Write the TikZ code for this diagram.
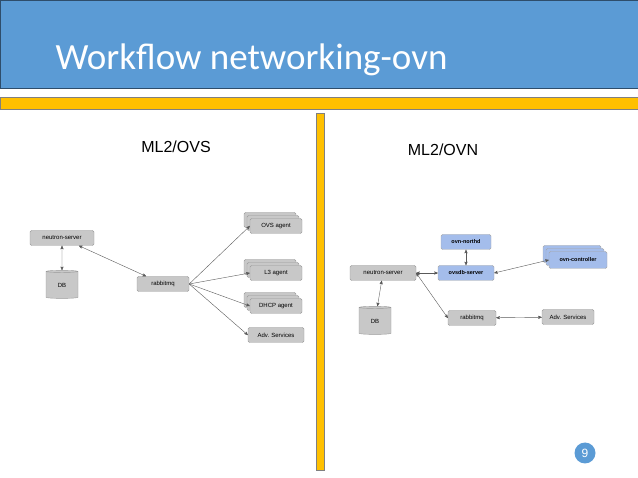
\documentclass[tikz,border=0pt]{standalone}
\usepackage{fontspec}
\setmainfont{Liberation Sans}
\newfontfamily\titlefont{Carlito}
\usetikzlibrary{arrows,positioning,shapes.geometric}
\definecolor{hdrblue}{HTML}{5B9BD5}
\definecolor{baryellow}{HTML}{FFC000}
\definecolor{boxgray}{HTML}{C8C8C8}
\definecolor{ovnblue}{HTML}{A4BDEB}
\tikzset{
flow/.style={<->,>=stealth',thin,draw=gray!70!black},
comp/.style={rectangle,rounded corners=1.5pt,draw=gray!80,fill=boxgray,
    inner sep=0pt,minimum height=15pt,font=\fontsize{6}{6}\selectfont},
ovn/.style={comp,fill=ovnblue,draw=gray!70,font=\bfseries\fontsize{5.5}{6}\selectfont},
store/.style={cylinder,shape border rotate=90,aspect=0.25,draw=gray!80,fill=boxgray,
    minimum width=32pt,minimum height=28pt,inner sep=0pt,font=\fontsize{6}{6}\selectfont},
}
\begin{document}
\begin{tikzpicture}[x=1pt,y=-1pt]
    \useasboundingbox (0,0) rectangle (638,478);
    % header
    \fill[hdrblue,draw=hdrblue!50!black] (0,0) rectangle (638,88);
    \node[anchor=base west,text=white,font=\titlefont\fontsize{37}{38}\selectfont] (title) at (52,70) {Workflow networking-ovn};
    \fill[baryellow,draw=gray] (0,97) rectangle (638,109);
    \fill[baryellow,draw=gray] (316,113) rectangle (324,470);
    \node[circle,fill=hdrblue,text=white,minimum size=21pt,inner sep=0pt,font=\fontsize{12}{12}\selectfont] (page) at (585,453) {9};

    % ML2/OVS
    \node[font=\fontsize{16}{16}\selectfont] (ovstitle) at (176,147) {ML2/OVS};
    \node[comp,minimum width=64pt] (ns1) at (62,238) {neutron-server};
    \node[store] (db1) at (62,285) {DB};
    \node[comp,minimum width=52pt] (rmq1) at (163,284) {rabbitmq};
    \foreach \name/\txt/\y in {ovs/OVS agent/226,ltr/L3 agent/273,dhcp/DHCP agent/306}{
        \node[comp,minimum width=52pt] at (270,\y-6) {};
        \node[comp,minimum width=52pt] at (273,\y-3) {};
        \node[comp,minimum width=52pt] (\name) at (276,\y) {\txt};
    }
    \node[comp,minimum width=56pt] (adv1) at (276,335) {Adv. Services};
    \draw[flow] (ns1) -- (rmq1);
    \draw[flow] (ns1) -- (db1);
    \foreach \t in {ovs,ltr,dhcp,adv1}
        \draw[flow,<-] (\t.west) -- (rmq1.east);

    % ML2/OVN
    \node[font=\fontsize{16}{16}\selectfont] (ovntitle) at (443,150) {ML2/OVN};
    \node[comp,minimum width=66pt] (ns2) at (383,273) {neutron-server};
    \node[store] (db2) at (375,321) {DB};
    \node[ovn,minimum width=50pt] (northd) at (466,242) {ovn-northd};
    \node[ovn,minimum width=56pt] (ovsdb) at (466,273) {ovsdb-server};
    \node[ovn,minimum width=58pt,minimum height=17pt] at (572,254) {};
    \node[ovn,minimum width=58pt,minimum height=17pt] at (575,257) {};
    \node[ovn,minimum width=58pt,minimum height=17pt] (ctrl) at (578,260) {ovn-controller};
    \node[comp,minimum width=48pt] (rmq2) at (472,318) {rabbitmq};
    \node[comp,minimum width=52pt] (adv2) at (568,317) {Adv. Services};
    \draw[flow] (ns2) -- (ovsdb);
    \draw[flow] (northd) -- (ovsdb);
    \draw[flow] (ovsdb.east) -- (ctrl.west);
    \draw[flow] (ns2.east) -- (rmq2.west);
    \draw[flow] (ns2) -- (db2);
    \draw[flow] (rmq2) -- (adv2);
\end{tikzpicture}
\end{document}
